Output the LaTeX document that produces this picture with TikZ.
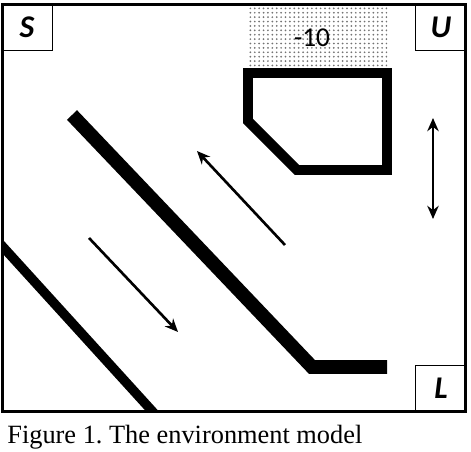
\documentclass[tikz,border=0pt]{standalone}
\usepackage{fontspec}
\setmainfont{Liberation Serif}
\newfontfamily\labelfont{Carlito}
\usetikzlibrary{arrows.meta,positioning,patterns.meta}

\begin{document}
\begin{tikzpicture}[
    x=0.02cm, y=-0.02cm,
    frame/.style={rectangle, draw=black, line width=1.7pt, minimum width=9.28cm, minimum height=8.16cm, inner sep=0pt, outer sep=0pt},
    corner/.style={rectangle, draw=black, line width=0.6pt, minimum width=1cm, minimum height=0.93cm, inner sep=0pt, outer sep=0pt, font=\labelfont\bfseries\itshape\fontsize{18}{20}\selectfont},
    wall/.style={line width=7.9pt, line cap=butt, line join=miter},
    block/.style={line width=5.67pt, line join=miter},
    move/.style={-{Stealth[length=7.5pt,width=6.5pt]}, line width=1.5pt},
    shift2/.style={{Stealth[length=7.5pt,width=6.5pt]}-{Stealth[length=7.5pt,width=6.5pt]}, line width=1.5pt}
  ]
  \useasboundingbox (0,0) rectangle (471,452);
  % penalty zone
  \fill[pattern={Dots[distance=2.5pt,radius=0.55pt]}, pattern color=black!55] (247,5) rectangle (387,68);
  \node[font=\labelfont\fontsize{15.5}{17}\selectfont] (Penalty) at (312,38) {-10};
  % obstacle
  \draw[block] (248,73) -- (387,73) -- (387,170) -- (297,170) -- (248,121) -- cycle;
  % walls
  \draw[wall] (72,115) -- (312,367) -- (387,367);
  \begin{scope}
    \clip (2,4) rectangle (466,412);
    \draw[wall, line width=5.4pt] (-2,241.5) -- (158,417.5);
  \end{scope}
  % moves
  \coordinate (UpTail) at (285,245);
  \coordinate (UpTip) at (197,151);
  \draw[move] (UpTail) -- (UpTip);
  \coordinate (DownTail) at (89,238);
  \coordinate (DownTip) at (178,332);
  \draw[move] (DownTail) -- (DownTip);
  \coordinate (ShiftTop) at (433,118);
  \coordinate (ShiftBottom) at (433,219);
  \draw[shift2] (ShiftTop) -- (ShiftBottom);
  % frame and corners
  \node[frame] (Env) at (234,208) {};
  \node[corner, anchor=north west] (S) at (Env.north west) {S};
  \node[corner, anchor=north east] (U) at (Env.north east) {U};
  \node[corner, anchor=south east] (L) at (Env.south east) {L};
  \node[anchor=base west, inner sep=0pt, font=\fontsize{15}{18}\selectfont] (Caption) at (7,444) {Figure 1.\ The environment model};
\end{tikzpicture}
\end{document}
